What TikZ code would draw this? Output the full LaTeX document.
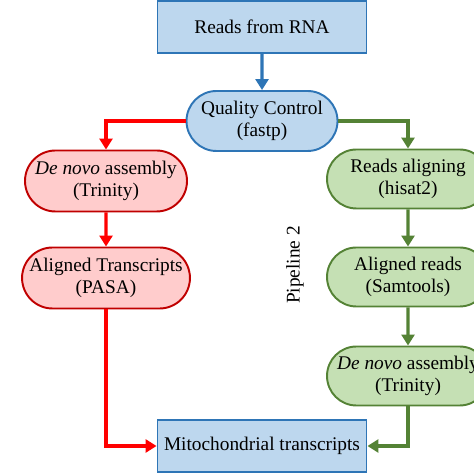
\documentclass[tikz,border=0pt]{standalone}
\usepackage{fontspec}
\setmainfont{Liberation Serif}
\usetikzlibrary{positioning, shapes.misc, arrows.meta}

\definecolor{boxblue}{HTML}{BDD7EE}
\definecolor{lineblue}{HTML}{2E75B6}
\definecolor{boxred}{HTML}{FFCCCC}
\definecolor{linered}{HTML}{C00000}
\definecolor{arrowred}{HTML}{FF0000}
\definecolor{boxgreen}{HTML}{C5E0B4}
\definecolor{linegreen}{HTML}{548235}

\begin{document}
\begin{tikzpicture}


\tikzstyle{text_style} = [font=\fontsize{11}{12.5}\selectfont, align=center, inner sep=0pt]

\tikzstyle{blue_box} = [text_style, rectangle, draw=lineblue, fill=boxblue, line width=1.1, minimum width=4.18cm, minimum height=1.04cm]

\tikzstyle{blue_pill} = [text_style, rounded rectangle, draw=lineblue, fill=boxblue, line width=1.1, minimum width=3.02cm, minimum height=1.2cm]

\tikzstyle{red_pill} = [text_style, rounded rectangle, draw=linered, fill=boxred, line width=1.1, minimum width=3.24cm, minimum height=1.22cm]

\tikzstyle{green_pill} = [text_style, rounded rectangle, draw=linegreen, fill=boxgreen, line width=1.1, minimum width=3.24cm, minimum height=1.18cm]

\tikzstyle{arrow_style} = [line width=1.8, -{Triangle[width=0.26cm, length=0.22cm]}]


\useasboundingbox (0, 0) rectangle (9.48, 9.48);

\node[blue_box] (rna) at (5.24, 8.94) {Reads from RNA};
\node[blue_pill] (qc) at (5.24, 7.06) {Quality Control\\(fastp)};

\node[red_pill] (dn1) at (2.12, 5.86) {\textit{De novo} assembly\\(Trinity)};
\node[red_pill] (pasa) at (2.12, 3.92) {Aligned Transcripts\\(PASA)};

\node[green_pill] (hisat) at (8.16, 5.90) {Reads aligning\\(hisat2)};
\node[green_pill] (sam) at (8.16, 3.94) {Aligned reads\\(Samtools)};
\node[green_pill] (dn2) at (8.16, 1.96) {\textit{De novo} assembly\\(Trinity)};

\node[blue_box] (mito) at (5.24, 0.56) {Mitochondrial transcripts};

\node[text_style, rotate=90] (p2) at (5.90, 4.18) {Pipeline 2};


\draw[arrow_style, draw=lineblue]  (rna) -- (qc);

\draw[arrow_style, draw=arrowred]  (qc.west) -| (dn1.north);
\draw[arrow_style, draw=arrowred]  (dn1) -- (pasa);
\draw[arrow_style, draw=arrowred]  (pasa.south) |- (mito.west);

\draw[arrow_style, draw=linegreen]  (qc.east) -| (hisat.north);
\draw[arrow_style, draw=linegreen]  (hisat) -- (sam);
\draw[arrow_style, draw=linegreen]  (sam) -- (dn2);
\draw[arrow_style, draw=linegreen]  (dn2.south) |- (mito.east);


\end{tikzpicture}
\end{document}
